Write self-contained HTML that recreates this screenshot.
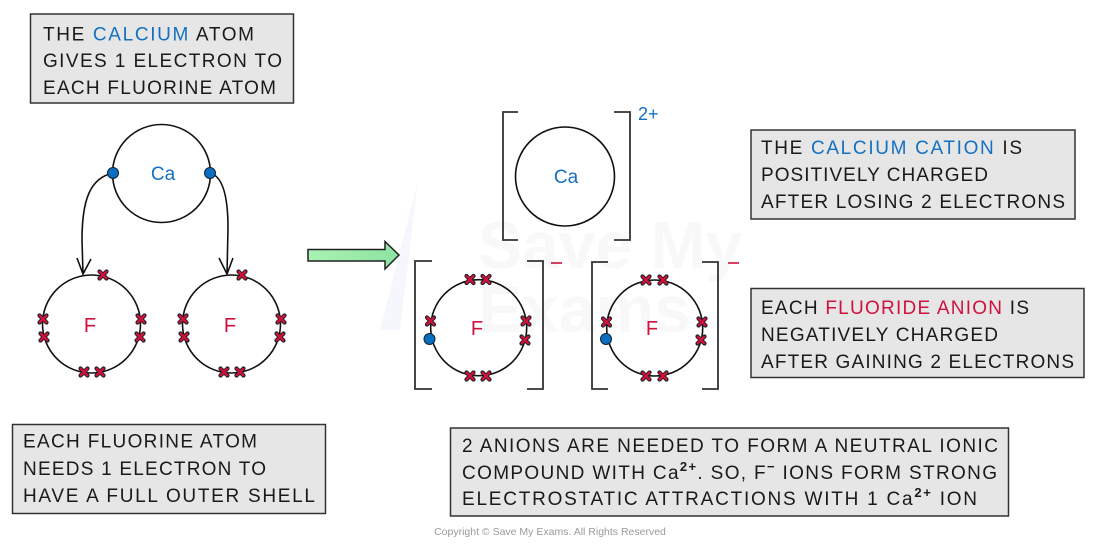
<!DOCTYPE html>
<html>
<head>
<meta charset="utf-8">
<style>
  html,body{margin:0;padding:0;background:#fff;}
  svg{display:block;}
  .t{font-family:"Liberation Sans",sans-serif;font-size:19px;fill:#1a1a1a;}
  .b{fill:#1470c0;}
  .r{fill:#d1113d;}
  .box{fill:#e6e6e6;stroke:#333;stroke-width:1.5;}
  .sh{fill:none;stroke:#111;stroke-width:1.6;}
  .br{fill:none;stroke:#333;stroke-width:1.8;}
</style>
</head>
<body>
<svg width="1100" height="547" viewBox="0 0 1100 547" xmlns="http://www.w3.org/2000/svg">
  <defs>
    <linearGradient id="g" x1="0" y1="0" x2="1" y2="0">
      <stop offset="0" stop-color="#a8f2b4"/>
      <stop offset="1" stop-color="#8ee3a2"/>
    </linearGradient>
    <g id="x">
      <line x1="-3.5" y1="-3.5" x2="3.5" y2="3.5" stroke="#222" stroke-width="4.2" stroke-linecap="round"/>
      <line x1="-3.5" y1="3.5" x2="3.5" y2="-3.5" stroke="#222" stroke-width="4.2" stroke-linecap="round"/>
      <line x1="-3.2" y1="-3.2" x2="3.2" y2="3.2" stroke="#d1113d" stroke-width="2.4" stroke-linecap="round"/>
      <line x1="-3.2" y1="3.2" x2="3.2" y2="-3.2" stroke="#d1113d" stroke-width="2.4" stroke-linecap="round"/>
    </g>
  </defs>

  <!-- watermark -->
  <polygon points="418,180 380,330 400,330" fill="#f6f7fc"/>
  <text x="478" y="268" font-family="Liberation Sans,sans-serif" font-weight="bold" font-size="66" fill="#f8f8f9">Save My</text>
  <text x="478" y="332" font-family="Liberation Sans,sans-serif" font-weight="bold" font-size="66" fill="#f8f8f9">Exams</text>

  <!-- Top-left box -->
  <rect class="box" x="30.5" y="14" width="263" height="89"/>
  <text class="t" x="43" y="40.5" textLength="211" lengthAdjust="spacing">THE <tspan class="b">CALCIUM</tspan> ATOM</text>
  <text class="t" x="43" y="67" textLength="239" lengthAdjust="spacing">GIVES 1 ELECTRON TO</text>
  <text class="t" x="43" y="94" textLength="233" lengthAdjust="spacing">EACH FLUORINE ATOM</text>

  <!-- Ca atom -->
  <circle class="sh" cx="161.5" cy="173.5" r="49"/>
  <text x="163" y="180" text-anchor="middle" font-family="Liberation Sans,sans-serif" font-size="19" fill="#1470c0">Ca</text>

  <!-- curved arrows -->
  <path d="M113,173 C90,178 82,200 82,240 L83,274" fill="none" stroke="#111" stroke-width="1.6"/>
  <polyline points="77,258 83,274 91,259" fill="none" stroke="#111" stroke-width="1.6"/>
  <path d="M210,173 C222,176 228,195 228,228 L227,274" fill="none" stroke="#111" stroke-width="1.6"/>
  <polyline points="219,258 227,274 233,258" fill="none" stroke="#111" stroke-width="1.6"/>

  <circle cx="113" cy="173" r="5.5" fill="#0a6fc0" stroke="#123" stroke-width="1"/>
  <circle cx="210" cy="173" r="5.5" fill="#0a6fc0" stroke="#123" stroke-width="1"/>

  <!-- F atom 1 -->
  <circle class="sh" cx="91.5" cy="324" r="49"/>
  <text x="90" y="332" text-anchor="middle" font-family="Liberation Sans,sans-serif" font-size="20" fill="#d1113d">F</text>
  <use href="#x" x="103" y="275"/>
  <use href="#x" x="43" y="319"/>
  <use href="#x" x="44" y="337"/>
  <use href="#x" x="141" y="319"/>
  <use href="#x" x="140" y="337"/>
  <use href="#x" x="84" y="372"/>
  <use href="#x" x="100" y="372"/>

  <!-- F atom 2 -->
  <circle class="sh" cx="231.5" cy="324" r="49"/>
  <text x="230" y="332" text-anchor="middle" font-family="Liberation Sans,sans-serif" font-size="20" fill="#d1113d">F</text>
  <use href="#x" x="242" y="275"/>
  <use href="#x" x="183" y="319"/>
  <use href="#x" x="184" y="337"/>
  <use href="#x" x="281" y="319"/>
  <use href="#x" x="280" y="337"/>
  <use href="#x" x="224" y="372"/>
  <use href="#x" x="240" y="372"/>

  <!-- green arrow -->
  <polygon points="308,249.5 385,249.5 385,241.5 399,255 385,269 385,261 308,261" fill="url(#g)" stroke="#222" stroke-width="1.5" stroke-linejoin="miter"/>

  <!-- Ca ion -->
  <polyline class="br" points="518,112 503,112 503,240 518,240"/>
  <polyline class="br" points="614,112 630,112 630,240 614,240"/>
  <circle class="sh" cx="565" cy="176.5" r="49.5"/>
  <text x="566" y="183" text-anchor="middle" font-family="Liberation Sans,sans-serif" font-size="19" fill="#1470c0">Ca</text>
  <text x="638" y="120" font-family="Liberation Sans,sans-serif" font-size="18" fill="#1470c0">2+</text>

  <!-- F ion 1 -->
  <polyline class="br" points="432,261 415,261 415,389 432,389"/>
  <polyline class="br" points="527,261 543,261 543,389 527,389"/>
  <line x1="551" y1="263" x2="562" y2="263" stroke="#d1113d" stroke-width="1.6"/>
  <circle class="sh" cx="478.7" cy="327.7" r="48"/>
  <text x="477" y="335" text-anchor="middle" font-family="Liberation Sans,sans-serif" font-size="20" fill="#d1113d">F</text>
  <use href="#x" x="470" y="279.5"/>
  <use href="#x" x="486" y="279.5"/>
  <use href="#x" x="526" y="321"/>
  <use href="#x" x="525" y="340"/>
  <use href="#x" x="470" y="376"/>
  <use href="#x" x="486" y="376"/>
  <use href="#x" x="430.5" y="321"/>
  <circle cx="429.5" cy="339" r="5.5" fill="#0a6fc0" stroke="#123" stroke-width="1"/>

  <!-- F ion 2 -->
  <polyline class="br" points="608,262 592,262 592,389 608,389"/>
  <polyline class="br" points="702,262 718,262 718,389 702,389"/>
  <line x1="728" y1="263" x2="739" y2="263" stroke="#d1113d" stroke-width="1.6"/>
  <circle class="sh" cx="654.7" cy="328" r="48"/>
  <text x="652" y="335" text-anchor="middle" font-family="Liberation Sans,sans-serif" font-size="20" fill="#d1113d">F</text>
  <use href="#x" x="646" y="280"/>
  <use href="#x" x="663" y="280"/>
  <use href="#x" x="702" y="322"/>
  <use href="#x" x="701" y="340"/>
  <use href="#x" x="646" y="376"/>
  <use href="#x" x="663" y="376"/>
  <use href="#x" x="606.5" y="322"/>
  <circle cx="606" cy="339" r="5.5" fill="#0a6fc0" stroke="#123" stroke-width="1"/>

  <!-- right box 1 -->
  <rect class="box" x="751" y="130" width="324" height="89"/>
  <text class="t" x="761" y="154" textLength="261" lengthAdjust="spacing">THE <tspan class="b">CALCIUM CATION</tspan>  IS</text>
  <text class="t" x="761" y="181" textLength="227" lengthAdjust="spacing">POSITIVELY CHARGED</text>
  <text class="t" x="761" y="208" textLength="304" lengthAdjust="spacing">AFTER LOSING 2 ELECTRONS</text>

  <!-- right box 2 -->
  <rect class="box" x="751" y="288.5" width="333" height="89"/>
  <text class="t" x="761" y="314" textLength="268" lengthAdjust="spacing">EACH <tspan class="r">FLUORIDE ANION</tspan>  IS</text>
  <text class="t" x="761" y="341" textLength="237" lengthAdjust="spacing">NEGATIVELY CHARGED</text>
  <text class="t" x="761" y="368" textLength="313" lengthAdjust="spacing">AFTER GAINING 2 ELECTRONS</text>

  <!-- bottom-left box -->
  <rect class="box" x="12.5" y="424.5" width="313" height="89"/>
  <text class="t" x="23" y="447.5" textLength="234" lengthAdjust="spacing">EACH FLUORINE ATOM</text>
  <text class="t" x="23" y="475" textLength="243" lengthAdjust="spacing">NEEDS 1 ELECTRON TO</text>
  <text class="t" x="23" y="502" textLength="292" lengthAdjust="spacing">HAVE A FULL OUTER SHELL</text>

  <!-- bottom box -->
  <rect class="box" x="450.5" y="428" width="558" height="88"/>
  <text class="t" x="462" y="452" textLength="536" lengthAdjust="spacing">2 ANIONS ARE NEEDED TO FORM A NEUTRAL IONIC</text>
  <text class="t" x="462" y="479" textLength="535" lengthAdjust="spacing">COMPOUND WITH Ca<tspan font-size="13" dy="-8" font-weight="bold">2+</tspan><tspan dy="8">. SO, F</tspan><tspan font-size="13" dy="-8" font-weight="bold">−</tspan><tspan dy="8"> IONS FORM STRONG</tspan></text>
  <text class="t" x="462" y="505" textLength="515" lengthAdjust="spacing">ELECTROSTATIC ATTRACTIONS WITH 1 Ca<tspan font-size="13" dy="-8" font-weight="bold">2+</tspan><tspan dy="8"> ION</tspan></text>

  <!-- copyright -->
  <text x="550" y="535" text-anchor="middle" font-family="Liberation Sans,sans-serif" font-size="10.5" fill="#9a9a9a">Copyright © Save My Exams. All Rights Reserved</text>
</svg>
</body>
</html>
